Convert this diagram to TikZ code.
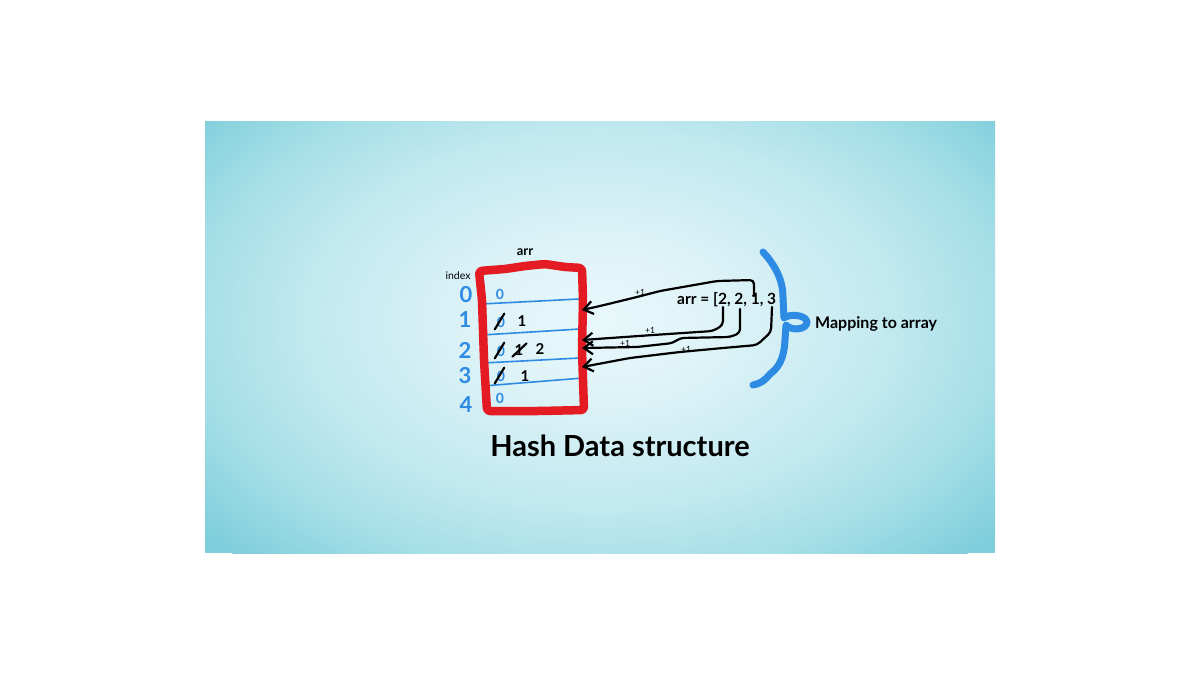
\documentclass[tikz,border=0pt]{standalone}
\usepackage{fontspec}
\setsansfont{Lato}
\renewcommand\familydefault{\sfdefault}
\usetikzlibrary{arrows.meta,calc}
\definecolor{bgin}{HTML}{E8F8FB}
\definecolor{bgin2}{HTML}{E0F4F8}
\definecolor{bgmid}{HTML}{C2E9F0}
\definecolor{bgmid2}{HTML}{A2DDE6}
\definecolor{bgout}{HTML}{7ECEDB}
\definecolor{hred}{HTML}{E41B22}
\definecolor{hblue}{HTML}{2E8BE4}
\pgfdeclareradialshading{bgshade}{\pgfpoint{0bp}{0bp}}{color(0bp)=(bgin); color(5bp)=(bgin2); color(14bp)=(bgmid); color(20bp)=(bgmid2); color(25bp)=(bgout); color(50bp)=(bgout)}
\begin{document}
\begin{tikzpicture}[x=1pt,y=-1pt,
  hand/.style={line cap=round,line join=round},
  conn/.style={hand,black,line width=2.2pt,rounded corners=4pt,-{Straight Barb[length=9pt,width=13pt,line width=2.2pt]}},
  idx/.style={text=hblue,font=\bfseries\fontsize{22}{22}\selectfont,inner sep=0pt},
  zero/.style={text=hblue,font=\bfseries\fontsize{14}{14}\selectfont,inner sep=0pt},
  val/.style={text=black,font=\bfseries\fontsize{15}{15}\selectfont,inner sep=0pt},
  strike/.style={hand,black,line width=2.2pt},
  plus/.style={font=\fontsize{8.5}{8.5}\selectfont,inner sep=0pt},
  sep/.style={hand,hblue,line width=1.6pt}]
\useasboundingbox (0,0) rectangle (1200,675);
\fill[white] (0,0) rectangle (1200,675);
% background panel
\begin{scope}
\clip (205,121) rectangle (995,553);
\fill[bgout] (205,121) rectangle (995,553);
\shade[shading=bgshade] (600,320) ellipse (520 and 330);
\end{scope}
% labels above
\node[font=\bfseries\fontsize{13}{13}\selectfont,inner sep=0pt] (arrlabel) at (525,252) {arr};
\node[font=\fontsize{10.5}{10.5}\selectfont,inner sep=0pt] (index) at (458,276) {index};
% separators
\draw[sep] (481,304) -- (579,299);
\draw[sep] (482,335) -- (580,329);
\draw[sep] (483,363) -- (580,358);
\draw[sep] (483,386) -- (583,378);
% red box
\draw[hred,line width=8.5pt,line join=round,rounded corners=3pt]
  (479,271) -- (505,269) -- (525,266) -- (545,264) -- (565,267) -- (582,268)
  -- (583,300) -- (582,350) -- (584,410) -- (540,411) -- (487,411)
  -- (484,360) -- (482,300) -- cycle;
% index digits
\node[idx] (i0) at (466,295) {0};
\node[idx] (i1) at (465,320) {1};
\node[idx] (i2) at (465,350) {2};
\node[idx] (i3) at (465,376) {3};
\node[idx] (i4) at (466,405) {4};
% cell contents
\node[zero] (c0) at (500,294) {0};
\node[zero] (c1) at (501,322) {0};
\node[val] (c1v) at (522,321) {1};
\node[zero] (c2) at (501,351) {0};
\node[val] (c2a) at (519,350) {1};
\node[val] (c2b) at (540,349) {2};
\node[zero] (c3) at (501,376) {0};
\node[val] (c3v) at (525,376) {1};
\node[zero] (c4) at (500,398) {0};
\draw[strike] ($(c1.south west)+(-2,2)$) -- ($(c1.north east)+(-1,-3)$);
\draw[strike] ($(c2.south west)+(-2,2)$) -- ($(c2.north east)+(-1,-3)$);
\draw[strike] ($(c2a.south west)+(-2,1)$) -- ($(c2a.north east)+(3,-1)$);
\draw[strike] ($(c3.south west)+(-2,2)$) -- ($(c3.north east)+(-1,-3)$);
% array text
\node[font=\bfseries\fontsize{15.5}{15.5}\selectfont,inner sep=0pt,anchor=west] (arr) at (677,300) {arr = [2, 2, 1, 3};
\coordinate (s1) at (754,296);
\coordinate (s2) at (723,307);
\coordinate (s3) at (740,309);
\coordinate (s4) at (772,307);
\coordinate (r1) at (582,310);
\coordinate (r2a) at (582,340);
\coordinate (r2b) at (582,348);
\coordinate (r3) at (582,367);
\draw[conn] (s1) -- (754,280) -- (717,281) -- (660,291) -- (637,297) -- (600,306) -- (r1);
\draw[conn] (s2) -- (723,325) -- (713,331) -- (653,335) -- (r2a);
\draw[conn] (s3) -- (740,333) -- (730,337) -- (680,338) -- (673,343) -- (637,347) -- (r2b);
\draw[conn] (s4) -- (771,332) -- (757,345) -- (723,348) -- (680,352) -- (630,358) -- (r3);
\node[plus] (p1) at (640,292) {+1};
\node[plus] (p2) at (650,330) {+1};
\node[plus] (p3) at (625,343) {+1};
\node[plus] (p4) at (686,349) {+1};
% blue brace
\draw[hblue,line width=7pt,line cap=round,line join=round]
  (763,252) .. controls (775,265) and (783,280) .. (783,297)
  -- (784,318)
  .. controls (788,314) and (806,314) .. (807,322)
  .. controls (807,330) and (791,331) .. (786,325)
  -- (785,340) .. controls (784,360) and (778,368) .. (770,374)
  .. controls (765,380) and (762,383) .. (753,385);
\node[font=\bfseries\fontsize{16}{16}\selectfont,inner sep=0pt,anchor=west] (map) at (815,324) {Mapping to array};
% title
\node[font=\bfseries\fontsize{29}{29}\selectfont,inner sep=0pt] (title) at (620,446) {Hash Data structure};
\end{tikzpicture}
\end{document}
